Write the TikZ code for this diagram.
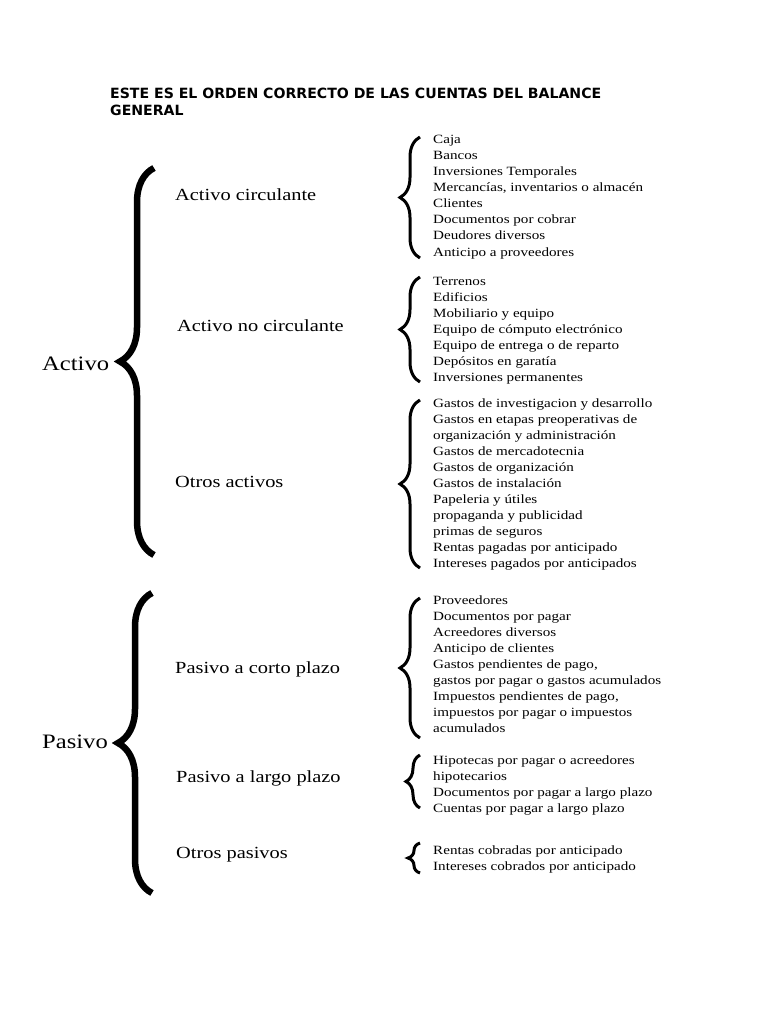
\documentclass[tikz,border=0pt]{standalone}
\usepackage{fontspec}
\setmainfont{Liberation Serif}[FakeStretch=1.2]
\newfontfamily\titlefont{DejaVu Sans}
\usetikzlibrary{decorations.pathreplacing}

\begin{document}
\begin{tikzpicture}[x=1pt, y=-1pt,
    titulo/.style={anchor=base west, inner sep=0pt, font=\titlefont\bfseries\fontsize{14.1}{17}\selectfont},
    rubro/.style={anchor=base west, inner sep=0pt, font=\fontsize{20.5}{24}\selectfont},
    grupo/.style={anchor=base west, inner sep=0pt, font=\fontsize{17}{20}\selectfont},
    partida/.style={anchor=base west, inner sep=0pt, font=\fontsize{12.6}{16}\selectfont},
    llavegrande/.style={decorate, decoration={brace, amplitude=34pt}, line width=6.5pt},
    llavechica/.style={decorate, decoration={brace, amplitude=20pt}, line width=3pt}]
    \useasboundingbox[fill=white] (0,0) rectangle (768,1024);
    % titulo
    \node[titulo] (tit1) at (110,99) {ESTE ES EL ORDEN CORRECTO DE LAS CUENTAS DEL BALANCE};
    \node[titulo] (tit2) at (110,116) {GENERAL};
    % rubros
    \node[rubro] (activo) at (42,370) {Activo};
    \node[rubro] (pasivo) at (42,748) {Pasivo};
    \node[grupo] (acirc) at (175,201) {Activo circulante};
    \node[grupo] (anocirc) at (177,331) {Activo no circulante};
    \node[grupo] (aotros) at (175,487) {Otros activos};
    \node[grupo] (pcorto) at (175,673) {Pasivo a corto plazo};
    \node[grupo] (plargo) at (176,782) {Pasivo a largo plazo};
    \node[grupo] (potros) at (176,858) {Otros pasivos};
    % llaves grandes
    \coordinate (actA) at (154,555); \coordinate (actB) at (154,168);
    \coordinate (pasA) at (152,893); \coordinate (pasB) at (152,593);
    \draw[llavegrande] (actA) -- (actB);
    \draw[llavegrande] (pasA) -- (pasB);
    % partidas
    \foreach \t [count=\i] in {Caja, Bancos, Inversiones Temporales, {Mercancías, inventarios o almacén}, Clientes, Documentos por cobrar, Deudores diversos, Anticipo a proveedores}
        \node[partida] (ac\i) at (433,128+16*\i) {\t};
    \foreach \t [count=\i] in {Terrenos, Edificios, Mobiliario y equipo, Equipo de cómputo electrónico, Equipo de entrega o de reparto, Depósitos en garatía, Inversiones permanentes}
        \node[partida] (an\i) at (433,269+16*\i) {\t};
    \foreach \t [count=\i] in {Gastos de investigacion y desarrollo, Gastos en etapas preoperativas de, organización y administración, Gastos de mercadotecnia, Gastos de organización, Gastos de instalación, Papeleria y útiles, propaganda y publicidad, primas de seguros, Rentas pagadas por anticipado, Intereses pagados por anticipados}
        \node[partida] (ao\i) at (433,391+16*\i) {\t};
    \foreach \t [count=\i] in {Proveedores, Documentos por pagar, Acreedores diversos, Anticipo de clientes, {Gastos pendientes de pago,}, gastos por pagar o gastos acumulados, {Impuestos pendientes de pago,}, impuestos por pagar o impuestos, acumulados}
        \node[partida] (pc\i) at (433,588+16*\i) {\t};
    \foreach \t [count=\i] in {Hipotecas por pagar o acreedores, hipotecarios, Documentos por pagar a largo plazo, Cuentas por pagar a largo plazo}
        \node[partida] (pl\i) at (433,748+16*\i) {\t};
    \foreach \t [count=\i] in {Rentas cobradas por anticipado, Intereses cobrados por anticipado}
        \node[partida] (po\i) at (433,838+16*\i) {\t};
    % llaves chicas
    \coordinate (acA) at (420,258); \coordinate (acB) at (420,137);
    \coordinate (anA) at (420,382); \coordinate (anB) at (420,277);
    \coordinate (aoA) at (420,568); \coordinate (aoB) at (420,400);
    \coordinate (pcA) at (420,738); \coordinate (pcB) at (420,598);
    \coordinate (plA) at (420,808); \coordinate (plB) at (420,755);
    \coordinate (poA) at (420,873); \coordinate (poB) at (420,843);
    \draw[llavechica] (acA) -- (acB);
    \draw[llavechica] (anA) -- (anB);
    \draw[llavechica] (aoA) -- (aoB);
    \draw[llavechica] (pcA) -- (pcB);
    \draw[llavechica, decoration={amplitude=14pt}] (plA) -- (plB);
    \draw[llavechica, decoration={amplitude=12pt}] (poA) -- (poB);
\end{tikzpicture}
\end{document}
